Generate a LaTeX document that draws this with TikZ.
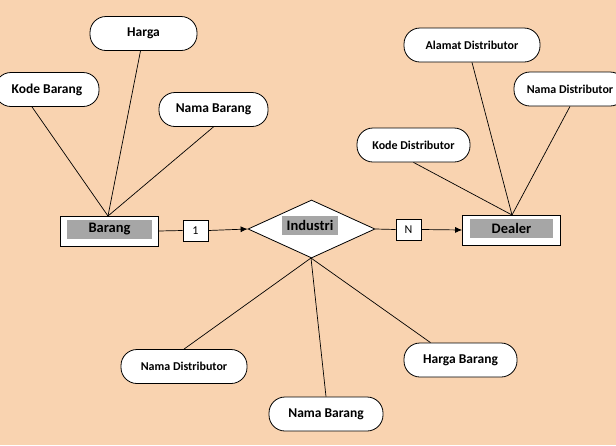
\documentclass[tikz,border=0pt]{standalone}
\usepackage{fontspec}
\setmainfont{Carlito}
\usetikzlibrary{shapes.geometric,arrows.meta}
\definecolor{bg}{HTML}{F9D3B0}
\definecolor{lab}{HTML}{A6A6A6}
\begin{document}
\begin{tikzpicture}[x=1pt,y=-1pt,
  attr/.style={draw,fill=white,rounded corners=16pt,line width=0.8pt,minimum height=34pt,font=\bfseries\fontsize{13.5}{15}\selectfont,inner sep=0pt},
  sm/.style={font=\bfseries\fontsize{12}{14}\selectfont},
  ent/.style={draw,fill=white,line width=0.8pt,minimum width=98pt,minimum height=30pt},
  glab/.style={fill=lab,font=\bfseries\fontsize{14.5}{16}\selectfont,minimum height=19pt,inner sep=0pt},
  card/.style={draw,fill=white,line width=0.7pt,minimum width=25pt,minimum height=21pt,font=\fontsize{12}{14}\selectfont,inner sep=0pt},
  ln/.style={line width=0.7pt},
  arr/.style={ln,-{Latex[length=7pt,width=6pt]}}]
\fill[bg] (0,0) rectangle (616,445);
\useasboundingbox (0,0) rectangle (616,445);
% entities
\node[ent] (barang) at (109,231) {};
\node[glab,minimum width=85pt] (barangl) at (109.5,229.5) {Barang};
\node[ent] (dealer) at (511.5,230) {};
\node[glab,minimum width=83pt] (dealerl) at (511.5,228) {Dealer};
\node[draw,fill=white,diamond,aspect=2.2,line width=0.8pt,minimum width=127pt,minimum height=58pt,inner sep=0pt] (ind) at (311.5,229) {};
\node[glab,minimum width=56pt] (indl) at (310,225.5) {Industri};
\node[card] (c1) at (195.5,230.5) {1};
\node[card] (cn) at (408.5,229.5) {N};
% attributes
\node[attr,minimum width=107pt] (harga) at (143.5,33.5) {Harga};
\node[attr,minimum width=104pt] (kode) at (47,89.5) {Kode Barang};
\node[attr,minimum width=109pt] (nb1) at (213.5,109.5) {Nama Barang};
\node[attr,sm,minimum width=136pt] (alamat) at (472,45) {Alamat Distributor};
\node[attr,sm,minimum width=112pt] (nd1) at (570,89) {Nama Distributor};
\node[attr,sm,minimum width=113pt] (kd) at (413.5,145) {Kode Distributor};
\node[attr,sm,minimum width=126pt] (nd2) at (184,366.5) {Nama Distributor};
\node[attr,minimum width=114pt] (nb2) at (326,414) {Nama Barang};
\node[attr,minimum width=113pt] (hb) at (460.5,360) {Harga Barang};
% attribute lines
\coordinate (bt) at (108,216);
\coordinate (dt) at (512,215);
\coordinate (ib) at (311,258);
\draw[ln] (kode.south) ++(-15pt,0) -- (bt);
\draw[ln] (harga.south) ++(-3pt,0) -- (bt);
\draw[ln] (nb1.south) -- (bt);
\draw[ln] (alamat.south) -- (dt);
\draw[ln] (nd1.south) -- (dt);
\draw[ln] (kd.south) -- (dt);
\draw[ln] (nd2.north) -- (ib);
\draw[ln] (nb2.north) -- (ib);
\draw[ln] (hb.north) ++(-30pt,0) -- (ib);
% relationship lines
\draw[ln] (barang.east) -- (c1.west);
\draw[arr] (c1.east) -- (ind.west);
\draw[ln] (ind.east) -- (cn.west);
\draw[arr] (cn.east) -- (dealer.west);
\end{tikzpicture}
\end{document}
